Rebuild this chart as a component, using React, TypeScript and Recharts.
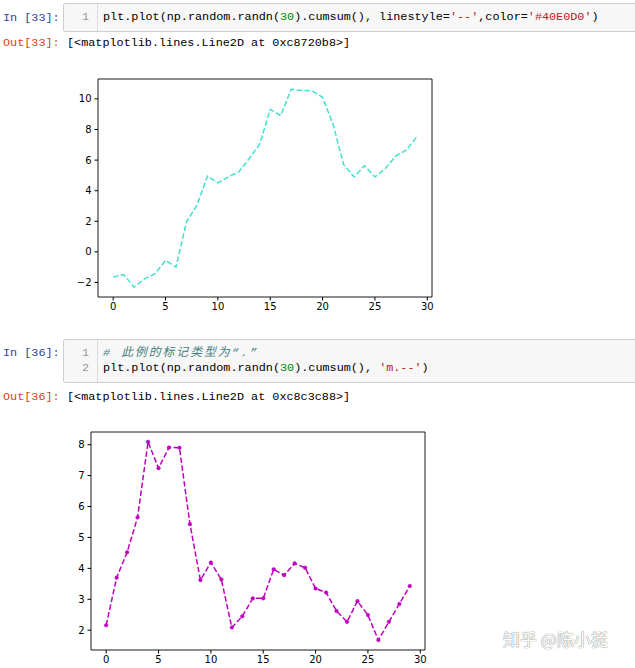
import { LineChart, Line, XAxis, YAxis, ReferenceArea } from 'recharts';

// cumulative random walks
const walkA = [
  -1.65, -1.48, -2.31, -1.76, -1.43, -0.56, -0.99, 1.96, 3.05, 4.95,
  4.51, 4.9, 5.23, 6.11, 7.05, 9.32, 8.91, 10.63, 10.55, 10.52,
  10.1, 8.34, 5.72, 4.9, 5.63, 4.9, 5.45, 6.28, 6.65, 7.53,
];
const walkB = [
  2.16, 3.7, 4.52, 5.65, 8.09, 7.24, 7.91, 7.9, 5.43, 3.62,
  4.19, 3.64, 2.09, 2.45, 3.03, 3.03, 3.97, 3.78, 4.16, 4.02,
  3.35, 3.22, 2.62, 2.27, 2.94, 2.49, 1.68, 2.27, 2.85, 3.43,
];
const xTicks = [0, 5, 10, 15, 20, 25, 30];
const yTicksA = [-2, 0, 2, 4, 6, 8, 10];
const yTicksB = [2, 3, 4, 5, 6, 7, 8];

const dataA = walkA.map((v, i) => ({ i, v }));
const dataB = walkB.map((v, i) => ({ i, v }));

const mono = '"Liberation Mono", "DejaVu Sans Mono", "Noto Sans CJK SC", monospace';
const tickStyle = { fontSize: 10, fill: '#000', fontFamily: '"DejaVu Sans", sans-serif' };
const minus = (v: number) => String(v).replace('-', '\u2212');

function Label({ top, text, color }: { top: number; text: string; color: string }) {
  return (
    <div style={{ position: 'absolute', left: 3, top, lineHeight: '14px', color }}>{text}</div>
  );
}

function CodeCell({ top, lines }: { top: number; lines: React.ReactNode[] }) {
  const h = 12 + lines.length * 15;
  return (
    <div
      style={{
        position: 'absolute',
        left: 63,
        top,
        width: 600,
        height: h,
        border: '1px solid #cfcfcf',
        background: '#f7f7f7',
        borderRadius: 2,
      }}
    >
      <div style={{ position: 'absolute', left: 0, top: 0, width: 33, height: h, borderRight: '1px solid #ddd' }} />
      {lines.map((ln, k) => (
        <div key={k} style={{ position: 'absolute', top: 6 + k * 15, left: 0, lineHeight: '15px', whiteSpace: 'pre' }}>
          <span style={{ position: 'absolute', left: 18, color: '#999' }}>{k + 1}</span>
          <span style={{ position: 'absolute', left: 39 }}>{ln}</span>
        </div>
      ))}
    </div>
  );
}

function Walk({ data, color, domainY, ticksY, dots }: {
  data: { i: number; v: number }[];
  color: string;
  domainY: [number, number];
  ticksY: number[];
  dots: boolean;
}) {
  return (
    <LineChart width={410} height={250} data={data} margin={{ top: 10, right: 18, left: 0, bottom: 0 }}>
      <XAxis
        dataKey="i"
        type="number"
        domain={[-1.45, 30.45]}
        ticks={xTicks}
        allowDataOverflow
        height={22}
        tickSize={3.5}
        tickMargin={2}
        tick={tickStyle}
        stroke="#000"
        axisLine={false}
      />
      <YAxis
        type="number"
        domain={domainY}
        ticks={ticksY}
        allowDataOverflow
        width={58}
        tickSize={3.5}
        tickMargin={3}
        tick={tickStyle}
        tickFormatter={minus}
        stroke="#000"
        axisLine={false}
      />
      <ReferenceArea
        x1={-1.45}
        x2={30.45}
        y1={domainY[0]}
        y2={domainY[1]}
        fill="none"
        stroke="#000"
        strokeWidth={0.9}
        strokeOpacity={1}
      />
      <Line
        dataKey="v"
        type="linear"
        stroke={color}
        strokeWidth={1.5}
        strokeDasharray="5.5 2.4"
        dot={dots ? { r: 1.8, fill: color, stroke: color, strokeWidth: 0.5, strokeDasharray: '' } : false}
        activeDot={false}
        isAnimationActive={false}
      />
    </LineChart>
  );
}

export default function App() {
  return (
    <div
      style={{
        position: 'fixed',
        left: 0,
        top: 0,
        width: 635,
        height: 668,
        background: '#fff',
        overflow: 'hidden',
        fontFamily: mono,
        fontSize: 11.8,
        color: '#000',
      }}
    >
      <Label top={11} text="In [33]:" color="#303F9F" />
      <CodeCell
        top={3}
        lines={[
          <>
            plt.plot(np.random.randn(<span style={{ color: '#080' }}>30</span>).cumsum(), linestyle=
            <span style={{ color: '#BA2121' }}>'--'</span>,color=
            <span style={{ color: '#BA2121' }}>'#40E0D0'</span>)
          </>,
        ]}
      />
      <Label top={36} text="Out[33]:" color="#D84315" />
      <div style={{ position: 'absolute', left: 67, top: 36, lineHeight: '14px' }}>
        [&lt;matplotlib.lines.Line2D at 0xc8720b8&gt;]
      </div>
      <div style={{ position: 'absolute', left: 40, top: 69 }}>
        <Walk data={dataA} color="#40E0D0" domainY={[-2.95, 11.3]} ticksY={yTicksA} dots={false} />
      </div>

      <Label top={346} text="In [36]:" color="#303F9F" />
      <CodeCell
        top={339}
        lines={[
          <span style={{ color: '#408080', fontStyle: 'italic', letterSpacing: 2 }}># 此例的标记类型为“.”</span>,
          <>
            plt.plot(np.random.randn(<span style={{ color: '#080' }}>30</span>).cumsum(),{' '}
            <span style={{ color: '#BA2121' }}>'m.--'</span>)
          </>,
        ]}
      />
      <Label top={390} text="Out[36]:" color="#D84315" />
      <div style={{ position: 'absolute', left: 67, top: 390, lineHeight: '14px' }}>
        [&lt;matplotlib.lines.Line2D at 0xc8c3c88&gt;]
      </div>
      <div style={{ position: 'absolute', left: 33, top: 422 }}>
        <Walk data={dataB} color="#BF00BF" domainY={[1.36, 8.41]} ticksY={yTicksB} dots />
      </div>

      <div
        style={{
          position: 'absolute',
          left: 503,
          top: 626,
          fontFamily: '"Noto Sans CJK SC", sans-serif',
          fontSize: 17,
          color: '#fff',
          textShadow: '0 0 1px #888, 0 0 1px #888',
          whiteSpace: 'pre',
        }}
      >
        知乎 @陈小挺
      </div>
    </div>
  );
}
